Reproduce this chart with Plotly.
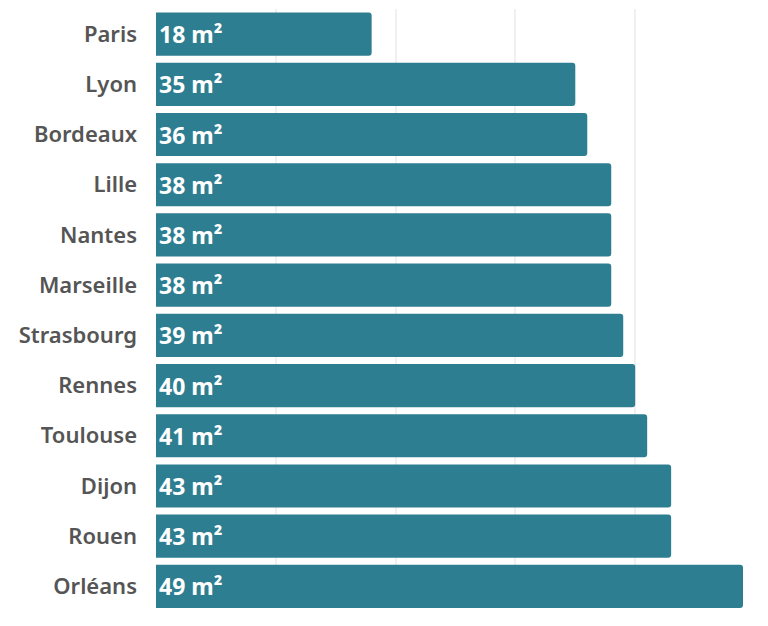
import plotly.graph_objects as go

cities = ["Paris", "Lyon", "Bordeaux", "Lille", "Nantes", "Marseille",
          "Strasbourg", "Rennes", "Toulouse", "Dijon", "Rouen", "Orléans"]
surfaces = [18, 35, 36, 38, 38, 38, 39, 40, 41, 43, 43, 49]
labels = [f"{v} m²" for v in surfaces]

fig = go.Figure(go.Bar(
    x=surfaces, y=cities, orientation="h",
    marker=dict(color="#2e7e92", cornerradius=3, line=dict(width=0)),
    text=labels, textposition="inside", insidetextanchor="start",
    textfont=dict(family="Noto Sans", size=23, color="white", weight="bold"),
    constraintext="none",
))
fig.update_layout(
    width=760, height=618,
    margin=dict(l=148, r=13, t=1, b=18),
    paper_bgcolor="white", plot_bgcolor="white",
    bargap=0.14, showlegend=False,
    xaxis=dict(range=[0, 50], dtick=10, showticklabels=False,
               showgrid=True, gridcolor="#f0f0f0", gridwidth=1.5,
               zeroline=False, fixedrange=True),
    yaxis=dict(range=[11.43, -0.5], showgrid=False, zeroline=False,
               tickfont=dict(family="Noto Sans", size=22, color="#555555", weight=600),
               ticklabelstandoff=18, ticks=""),
)
fig.write_html("out.html")
